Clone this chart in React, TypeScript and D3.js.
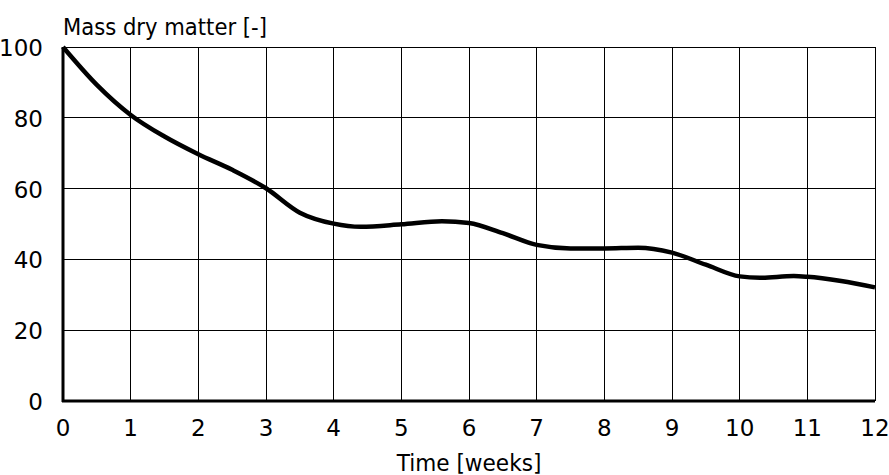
import { useEffect, useRef } from "react";
import * as d3 from "d3";

const weeks = [0, 0.5, 1, 1.5, 2, 2.5, 3, 3.5, 4, 4.4, 5, 5.6, 6, 6.5, 7, 7.5, 8, 8.5, 9, 9.5, 10, 10.3, 10.8, 11, 11.5, 12];
const massDry = [100, 89.3, 80.8, 74.7, 69.7, 65.3, 60.1, 53.2, 50.1, 49.2, 49.9, 50.8, 50.3, 47.4, 44.1, 43.1, 43.1, 43.3, 41.9, 38.5, 35.2, 34.8, 35.3, 35.1, 33.9, 32.1];
const xTicks = [0, 1, 2, 3, 4, 5, 6, 7, 8, 9, 10, 11, 12];
const yTicks = [0, 20, 40, 60, 80, 100];

const FONT = "'DejaVu Sans', sans-serif";

export default function App() {
  const svgRef = useRef<SVGSVGElement>(null);

  useEffect(() => {
    if (!svgRef.current) return;
    const width = 889;
    const height = 475;
    const m = { left: 63, right: 14, top: 47, bottom: 74 };

    const x = d3.scaleLinear().domain([0, 12]).range([m.left, width - m.right]);
    const y = d3.scaleLinear().domain([0, 100]).range([height - m.bottom, m.top]);

    const svg = d3.select(svgRef.current);
    svg.selectAll("*").remove();

    // grid
    svg
      .append("g")
      .selectAll("line")
      .data(xTicks)
      .enter()
      .append("line")
      .attr("x1", (d) => x(d))
      .attr("x2", (d) => x(d))
      .attr("y1", y(0))
      .attr("y2", y(100))
      .attr("stroke", "#000")
      .attr("stroke-width", 1)
      .attr("shape-rendering", "crispEdges");

    svg
      .append("g")
      .selectAll("line")
      .data(yTicks)
      .enter()
      .append("line")
      .attr("x1", x(0))
      .attr("x2", x(12))
      .attr("y1", (d) => y(d))
      .attr("y2", (d) => y(d))
      .attr("stroke", "#000")
      .attr("stroke-width", 1)
      .attr("shape-rendering", "crispEdges");

    // axes lines
    svg
      .append("line")
      .attr("x1", x(0))
      .attr("x2", x(0))
      .attr("y1", y(0) + 1)
      .attr("y2", y(100))
      .attr("stroke", "#000")
      .attr("stroke-width", 3);
    svg
      .append("line")
      .attr("x1", x(0) - 1)
      .attr("x2", x(12))
      .attr("y1", y(0))
      .attr("y2", y(0))
      .attr("stroke", "#000")
      .attr("stroke-width", 3);

    // tick labels
    svg
      .append("g")
      .selectAll("text")
      .data(yTicks)
      .enter()
      .append("text")
      .attr("x", 43)
      .attr("y", (d) => y(d) + 9)
      .attr("text-anchor", "end")
      .attr("font-family", FONT)
      .attr("font-size", 23)
      .text((d) => d);

    svg
      .append("g")
      .selectAll("text")
      .data(xTicks)
      .enter()
      .append("text")
      .attr("x", (d) => x(d))
      .attr("y", 436)
      .attr("text-anchor", "middle")
      .attr("font-family", FONT)
      .attr("font-size", 23)
      .text((d) => d);

    // titles, a bit narrower like the original
    svg
      .append("text")
      .attr("transform", "translate(469,471) scale(0.94,1)")
      .attr("text-anchor", "middle")
      .attr("font-family", FONT)
      .attr("font-size", 23)
      .text("Time [weeks]");

    svg
      .append("text")
      .attr("transform", "translate(63,35) scale(0.92,1)")
      .attr("font-family", FONT)
      .attr("font-size", 23)
      .text("Mass dry matter [-]");

    // curve
    const pts = weeks.map((w, i) => [w, massDry[i]] as [number, number]);
    const line = d3
      .line<[number, number]>()
      .x((d) => x(d[0]))
      .y((d) => y(d[1]))
      .curve(d3.curveMonotoneX);

    svg
      .append("path")
      .attr("d", line(pts) || "")
      .attr("fill", "none")
      .attr("stroke", "#000")
      .attr("stroke-width", 4.5)
      .attr("stroke-linejoin", "round");
  }, []);

  return (
    <div style={{ position: "absolute", left: 0, top: 0, background: "#fff" }}>
      <svg ref={svgRef} width={889} height={475} style={{ display: "block" }} />
    </div>
  );
}
